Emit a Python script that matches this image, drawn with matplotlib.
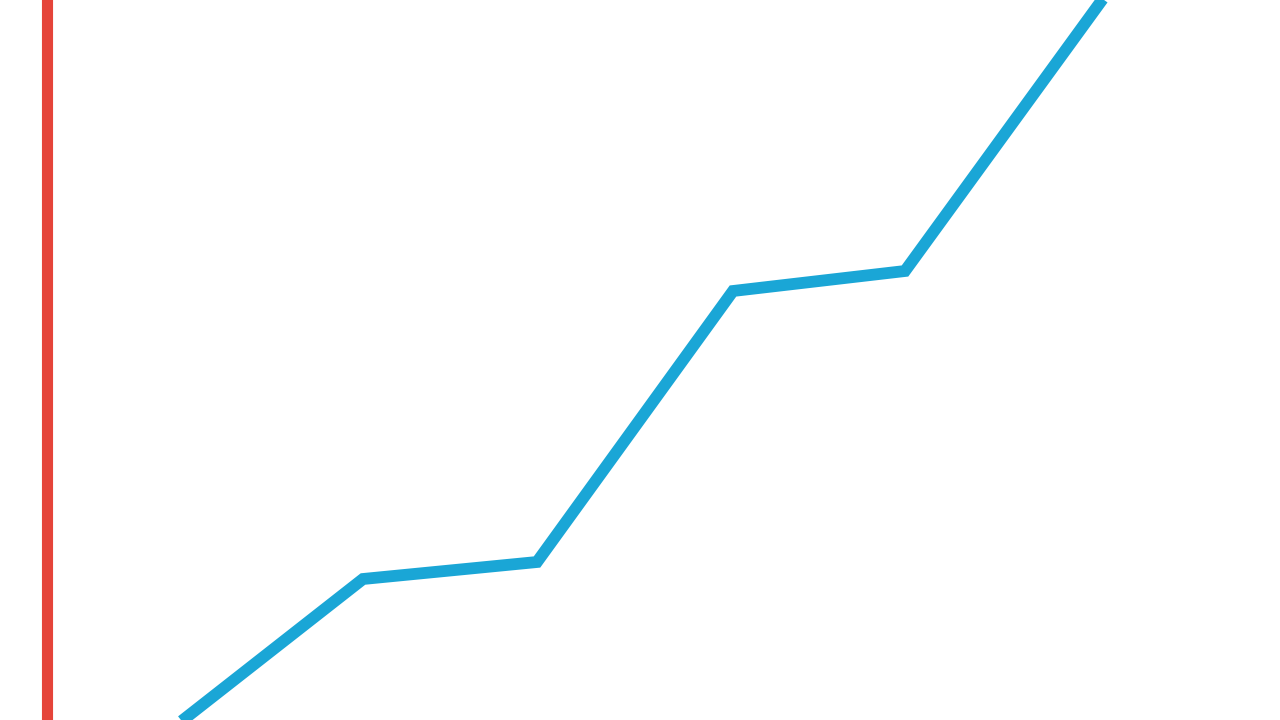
import matplotlib
matplotlib.use("Agg")
import matplotlib.pyplot as plt

# Data (in the chart's own units; y grows upward)
x_vals = [150, 183, 363, 537, 733, 905, 1102, 1130]
y_vals = [-26, 0, 141, 158, 429, 449, 720, 759]
ref_x = 47  # vertical reference line position
ref_y = [-10, 730]

fig = plt.figure(figsize=(12.8, 7.2), dpi=100)
ax = fig.add_axes([0, 0, 1, 1])
ax.set_xlim(0, 1280)
ax.set_ylim(0, 720)
ax.axis("off")

ax.plot([ref_x, ref_x], ref_y, color="#E5443A", linewidth=8.0, solid_capstyle="butt")
ax.plot(x_vals, y_vals, color="#1AA6D6", linewidth=8.5,
        solid_joinstyle="miter", solid_capstyle="butt")

fig.savefig("out.png", dpi=100, facecolor="white")
